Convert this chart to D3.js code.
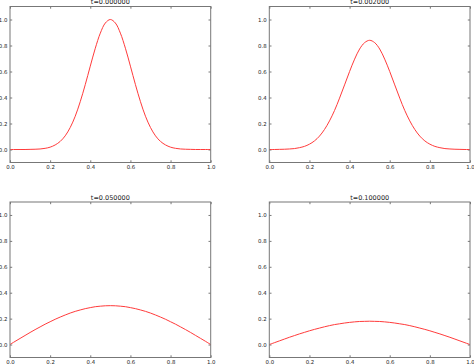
<!DOCTYPE html>
<html>
<head>
<meta charset="utf-8">
<script src="https://cdn.jsdelivr.net/npm/d3@7"></script>
<style>
  body { margin: 0; background: #fff; }
  svg { display: block; }
  text { font-family: "DejaVu Sans", sans-serif; fill: #222; }
</style>
</head>
<body>
<div id="chart"></div>
<script>
// Data
const xValues = [0, 0.025, 0.05, 0.075, 0.1, 0.125, 0.15, 0.175, 0.2, 0.225, 0.25,
  0.275, 0.3, 0.325, 0.35, 0.375, 0.4, 0.425, 0.45, 0.475, 0.5,
  0.525, 0.55, 0.575, 0.6, 0.625, 0.65, 0.675, 0.7, 0.725, 0.75,
  0.775, 0.8, 0.825, 0.85, 0.875, 0.9, 0.925, 0.95, 0.975, 1]
const uT0 = [0, 0, 0, 0, 0.001, 0.002, 0.004, 0.009, 0.018, 0.035, 0.062,
  0.105, 0.169, 0.256, 0.368, 0.499, 0.641, 0.779, 0.895, 0.973, 1.0,
  0.973, 0.895, 0.779, 0.641, 0.499, 0.368, 0.256, 0.169, 0.105, 0.062,
  0.035, 0.018, 0.009, 0.004, 0.002, 0.001, 0, 0, 0, 0]
const uT1 = [0, 0, 0.001, 0.002, 0.004, 0.007, 0.014, 0.024, 0.041, 0.066, 0.103,
  0.154, 0.22, 0.3, 0.395, 0.497, 0.6, 0.695, 0.773, 0.822, 0.84,
  0.822, 0.773, 0.695, 0.6, 0.497, 0.395, 0.3, 0.22, 0.154, 0.103,
  0.066, 0.041, 0.024, 0.014, 0.007, 0.004, 0.002, 0.001, 0, 0]
const uT2 = [0, 0.024, 0.047, 0.07, 0.093, 0.115, 0.136, 0.157, 0.176, 0.195, 0.212,
  0.228, 0.243, 0.256, 0.267, 0.277, 0.285, 0.292, 0.296, 0.299, 0.3,
  0.299, 0.296, 0.292, 0.285, 0.277, 0.267, 0.256, 0.243, 0.228, 0.212,
  0.195, 0.176, 0.157, 0.136, 0.115, 0.093, 0.07, 0.047, 0.024, 0]
const uT3 = [0, 0.014, 0.028, 0.042, 0.056, 0.069, 0.082, 0.094, 0.106, 0.117, 0.127,
  0.137, 0.146, 0.154, 0.16, 0.166, 0.171, 0.175, 0.178, 0.179, 0.18,
  0.179, 0.178, 0.175, 0.171, 0.166, 0.16, 0.154, 0.146, 0.137, 0.127,
  0.117, 0.106, 0.094, 0.082, 0.069, 0.056, 0.042, 0.028, 0.014, 0]
const titles = ['t=0.000000', 't=0.002000', 't=0.050000', 't=0.100000']
const xTicks = [0, 0.2, 0.4, 0.6, 0.8, 1.0]
const yTicks = [0, 0.2, 0.4, 0.6, 0.8, 1.0]

const series = [uT0, uT1, uT2, uT3]

const width = 474
const height = 364
const cols = [[10, 210.7], [269.3, 470]]
const rows = [[6.5, 162.5], [202, 357.5]]

const svg = d3.select('#chart').append('svg')
  .attr('width', width).attr('height', height)

series.forEach((vals, i) => {
  const [x0, x1] = cols[i % 2]
  const [y0, y1] = rows[Math.floor(i / 2)]
  const x = d3.scaleLinear().domain([0, 1]).range([x0, x1])
  const y = d3.scaleLinear().domain([-0.1, 1.1]).range([y1, y0])
  const g = svg.append('g')

  // inward ticks on all four sides, labels only left / bottom
  const fmt = d3.format('.1f')
  const tick = 2.2
  const bottom = g.append('g').attr('transform', `translate(0,${y1})`)
    .call(d3.axisBottom(x).tickValues(xTicks).tickSize(-tick).tickPadding(2.5).tickFormat(fmt))
  const left = g.append('g').attr('transform', `translate(${x0},0)`)
    .call(d3.axisLeft(y).tickValues(yTicks).tickSize(-tick).tickPadding(2.7).tickFormat(fmt))
  const top = g.append('g').attr('transform', `translate(0,${y0})`)
    .call(d3.axisTop(x).tickValues(xTicks).tickSize(-tick).tickFormat(''))
  const right = g.append('g').attr('transform', `translate(${x1},0)`)
    .call(d3.axisRight(y).tickValues(yTicks).tickSize(-tick).tickFormat(''))

  ;[bottom, left, top, right].forEach(a => {
    a.select('.domain').remove()
    a.selectAll('line').attr('stroke', '#555').attr('stroke-width', 0.8)
    a.selectAll('text').style('font-size', '5.4px').attr('fill', '#222')
  })
  bottom.selectAll('text').attr('y', 2.5).attr('dy', '0.71em')
  left.selectAll('text').attr('x', -2.7)

  // curve
  const line = d3.line()
    .x((d, j) => x(xValues[j]))
    .y(d => y(d))
    .curve(d3.curveCatmullRom)
  g.append('path').datum(vals).attr('d', line)
    .attr('fill', 'none').attr('stroke', '#ff3b3b').attr('stroke-width', 1)

  // frame
  g.append('rect').attr('x', x0).attr('y', y0)
    .attr('width', x1 - x0).attr('height', y1 - y0)
    .attr('fill', 'none').attr('stroke', '#777').attr('stroke-width', 1)

  g.append('text').attr('x', (x0 + x1) / 2).attr('y', y0 - 2.4)
    .attr('text-anchor', 'middle').style('font-size', '6.5px').text(titles[i])
})
</script>
</body>
</html>
